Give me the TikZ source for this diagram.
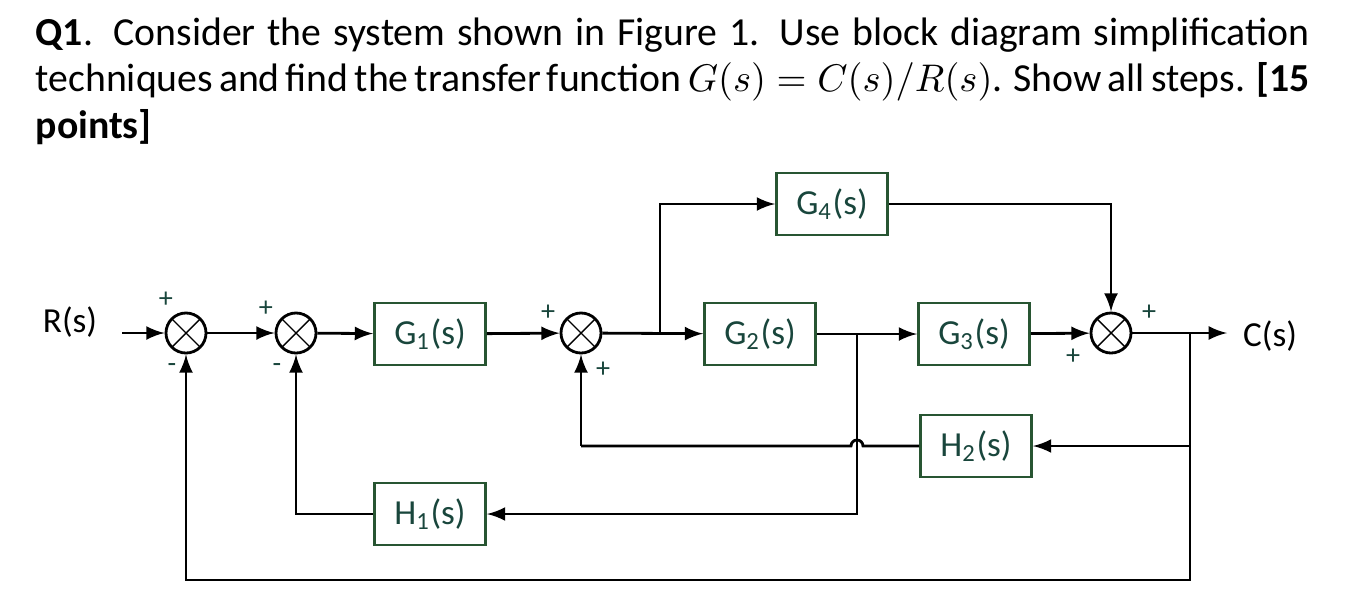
\documentclass[tikz,border=0pt]{standalone}
\usepackage{fontspec}
\setmainfont{Carlito}
\usepackage{amsmath}
\usetikzlibrary{positioning}
\definecolor{boxgreen}{RGB}{40,85,50}
\definecolor{txtgreen}{RGB}{25,70,60}
\tikzset{
  block/.style={draw=boxgreen,thick,minimum width=1.11cm,minimum height=0.62cm,inner sep=0pt,text=txtgreen,font=\fontsize{10}{12}\selectfont},
  sum/.style={draw,thick,circle,minimum size=0.4cm,inner sep=0pt,
    path picture={\draw[thin] (path picture bounding box.north west) -- (path picture bounding box.south east)
      (path picture bounding box.north east) -- (path picture bounding box.south west);}},
  sgn/.style={font=\fontsize{8}{9}\selectfont,text=txtgreen,inner sep=0pt},
  sig/.style={thick,-latex},
  wire/.style={thick}
}
\begin{document}
\begin{tikzpicture}[x=0.01cm,y=-0.01cm]
\useasboundingbox (0,0) rectangle (1361,609);
% question text
\node[anchor=north west,text width=12.73cm,align=justify,inner sep=0pt,font=\fontsize{11.3}{13.2}\selectfont] (qtext) at (35,17)
{\hyphenpenalty=10000 \textbf{Q1}. Consider the system shown in Figure 1. Use block diagram simplification\linebreak techniques and find the transfer function $G(s)=C(s)/R(s)$. Show all steps. \textbf{[15\linebreak points]}};

% blocks
\node[block] (G1) at (430,334) {G\textsubscript{1}(s)};
\node[block] (G2) at (760,334) {G\textsubscript{2}(s)};
\node[block] (G3) at (974,334) {G\textsubscript{3}(s)};
\node[block] (G4) at (832,204) {G\textsubscript{4}(s)};
\node[block] (H2) at (976,446) {H\textsubscript{2}(s)};
\node[block] (H1) at (430,514) {H\textsubscript{1}(s)};

% summing junctions
\node[sum] (s1) at (186,333) {};
\node[sum] (s2) at (296,333) {};
\node[sum] (s3) at (581,333) {};
\node[sum] (s4) at (1111,333) {};

\node[font=\fontsize{10}{12}\selectfont] (R) at (70,322) {R(s)};
\node[font=\fontsize{10}{12}\selectfont] (C) at (1270,336) {C(s)};
\coordinate (rin) at (122,333);
\coordinate (cout) at (1227,333);

% branch points
\coordinate (b4) at (660,333);
\coordinate (b2) at (857,333);
\coordinate (bc) at (1190,333);

% forward path
\draw[sig] (rin) -- (s1);
\draw[sig] (s1) -- (s2);
\draw[sig] (s2) -- (G1);
\draw[sig] (G1) -- (s3);
\draw[sig] (s3) -- (G2);
\draw[sig] (G2) -- (G3);
\draw[sig] (G3) -- (s4);
\draw[sig] (s4) -- (cout);

% G4 parallel path
\draw[sig] (b4) |- (G4);
\draw[sig] (G4) -| (s4);

% H1 loop
\draw[sig] (b2) |- (H1);
\draw[sig] (H1) -| (s2);

% H2 loop with hop
\draw[sig] (bc) |- (H2);
\draw[wire] (H2.west) -- (863,446) arc (0:-180:6) -- (581,446);
\draw[sig] (581,446) -- (s3);

% unity loop
\draw[sig] (bc) -- (1190,580) -| (s1);

% signs
\node[sgn] (p1) at (166,300) {+};
\node[sgn] (m1) at (172,368) {-};
\node[sgn] (p2) at (266,309) {+};
\node[sgn] (m2) at (277,368) {-};
\node[sgn] (p3) at (548,313) {+};
\node[sgn] (p3b) at (603,370) {+};
\node[sgn] (p4) at (1149,313) {+};
\node[sgn] (p4b) at (1073,357) {+};
\end{tikzpicture}
\end{document}
